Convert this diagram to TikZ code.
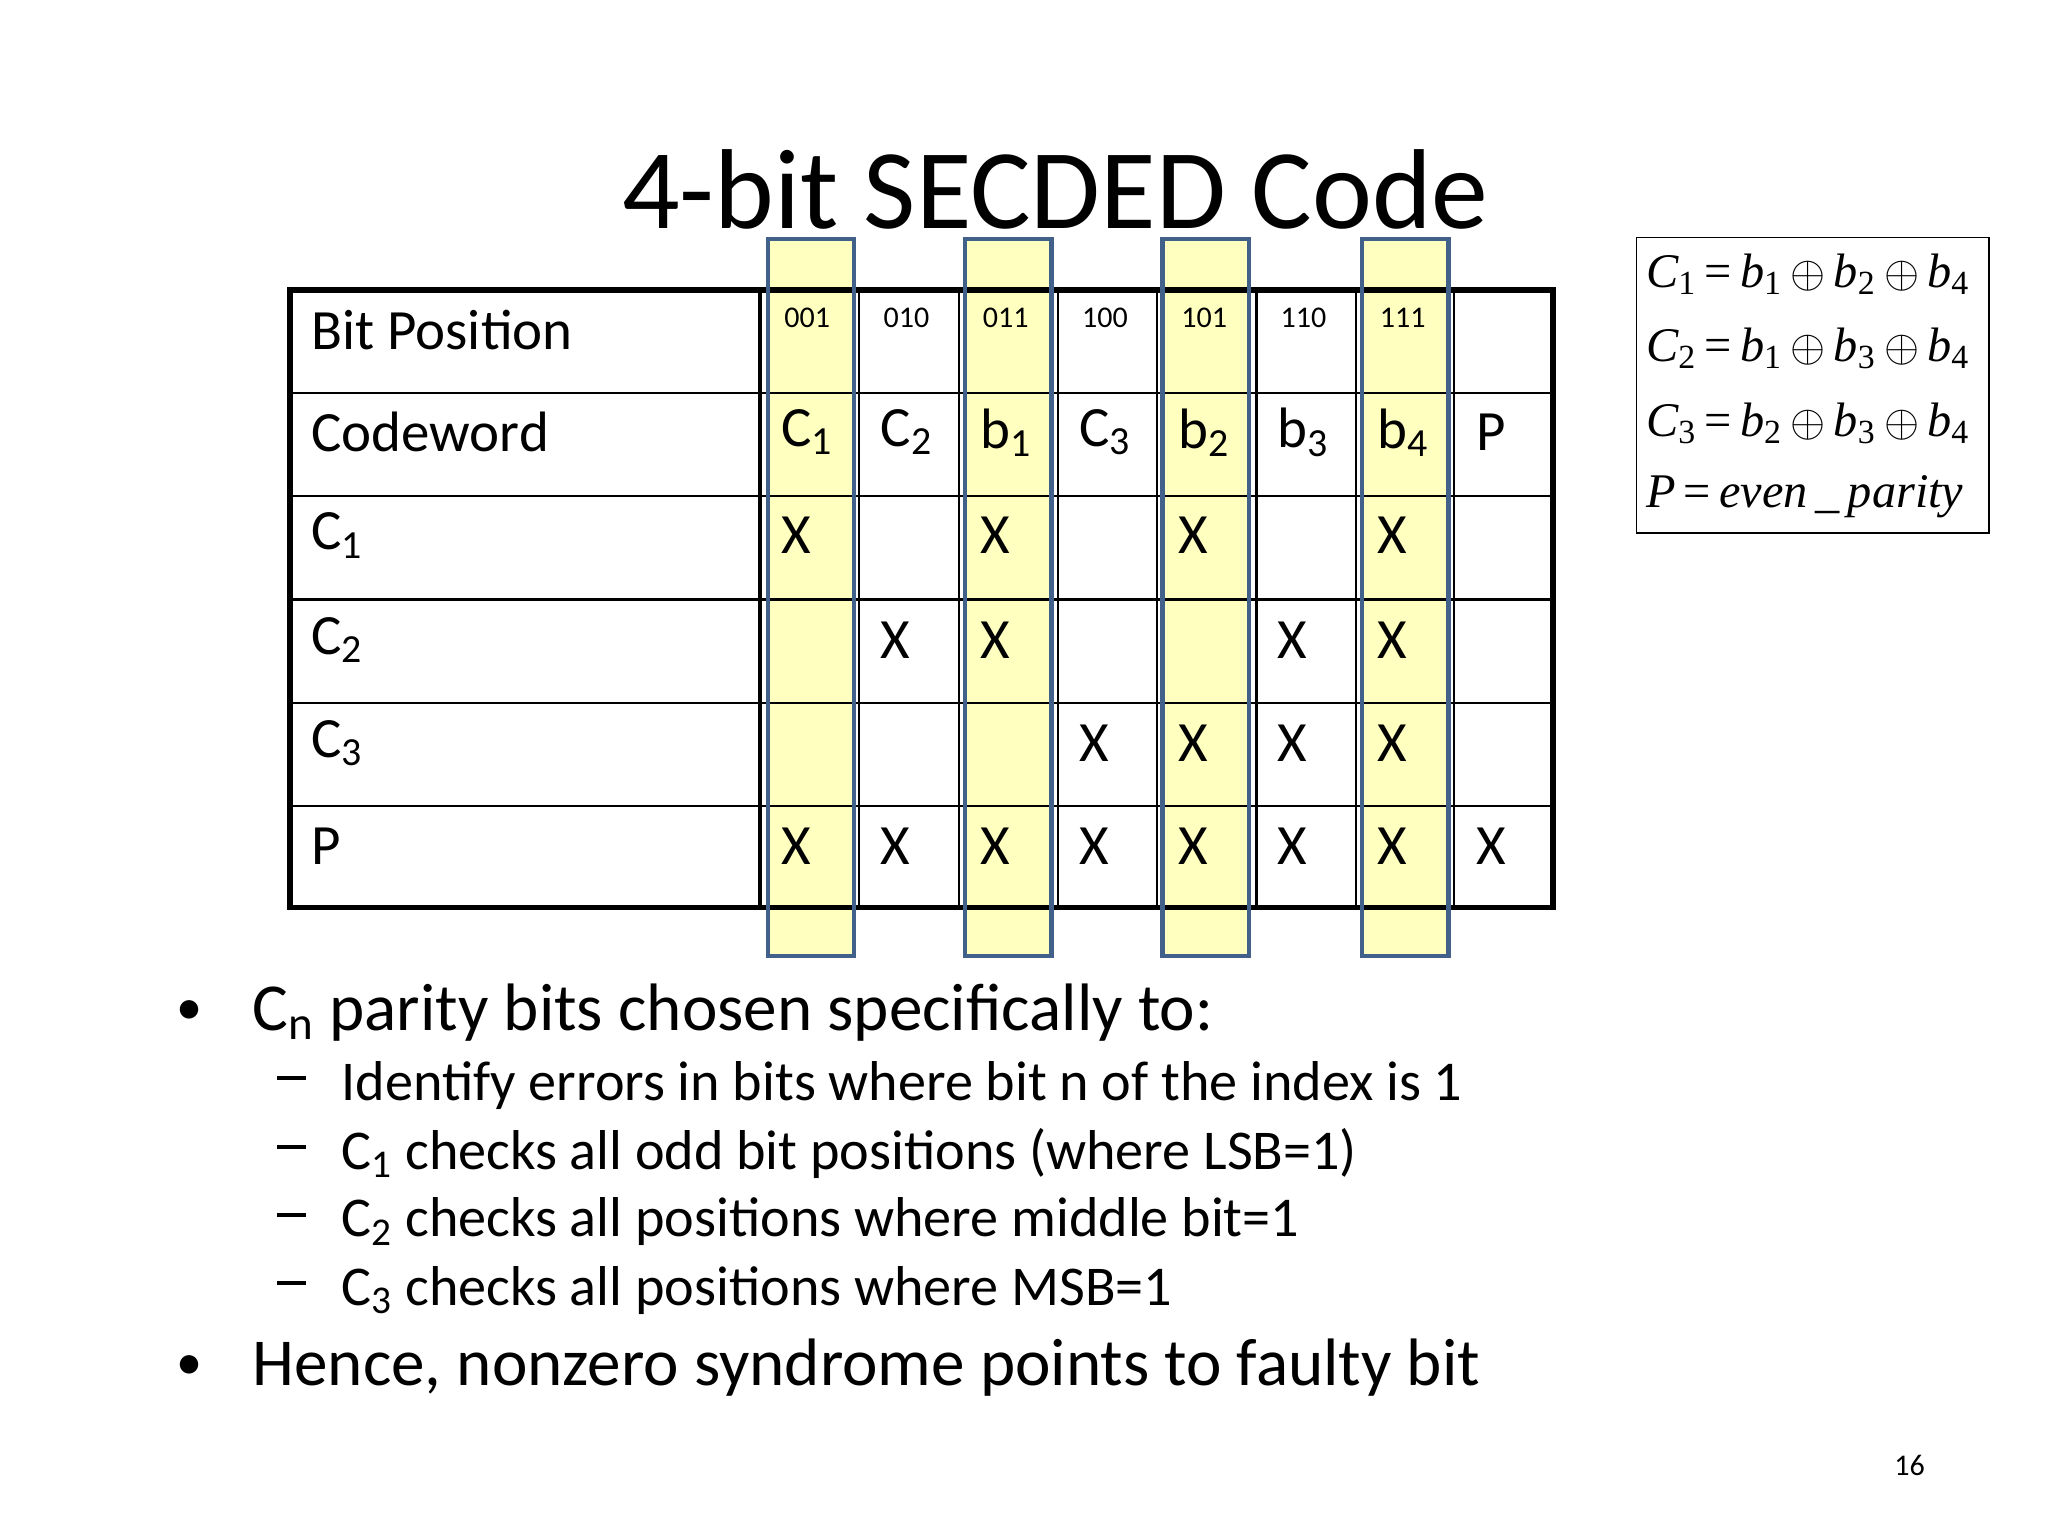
\documentclass[tikz,border=0pt]{standalone}
\usepackage{fontspec}
\setmainfont{Carlito}
\newfontfamily\tms{Liberation Serif}
\definecolor{olv}{RGB}{55,55,0}
\begin{document}
\begin{tikzpicture}[x=0.5pt,y=-0.5pt,
  cell/.style={anchor=west,inner sep=0pt,font=\fontsize{21.8}{26}\selectfont},
  ocell/.style={cell,text=olv},
  small/.style={anchor=center,inner sep=0pt,font=\fontsize{11.5}{13}\selectfont},
  barfill/.style={fill={rgb,255:red,255;green,255;blue,192}},
  bar/.style={draw={rgb,255:red,65;green,97;blue,138},line width=1.6pt},
  big/.style={anchor=west,inner sep=0pt,font=\fontsize{25.7}{30}\selectfont},
  sub/.style={anchor=west,inner sep=0pt,font=\fontsize{21.5}{26}\selectfont},
  eq/.style={anchor=west,inner sep=0pt,font=\tms\itshape\fontsize{18.5}{20}\selectfont}]
\useasboundingbox (0,0) rectangle (1568,1176);
\node (title) at (808,145) {\fontsize{43.5}{50}\selectfont 4-bit SECDED Code};
% bar fills
\foreach \x in {588,739,890,1043} \fill[barfill] (\x,183) rectangle ++(66,549);
% grid
\foreach \y in {301,380,459,538,617} \draw[line width=0.8pt] (222,\y) -- (1189,\y);
\foreach \x in {658,734,810,886,962,1038,1113} \draw[line width=0.8pt] (\x,222) -- (\x,695);
\draw[line width=1.6pt] (582,222) -- (582,695);
\draw[line width=2pt] (222,222) rectangle (1189,695);
% bar borders
\foreach \x in {588,739,890,1043} \draw[bar] (\x,183) rectangle ++(66,549);
% row labels
\node[cell] (r0) at (238,253) {Bit Position};
\node[cell] (r1) at (238,331) {Codeword};
\node[cell] (r2) at (238,410) {C\textsubscript{1}};
\node[cell] (r3) at (238,490) {C\textsubscript{2}};
\node[cell] (r4) at (238,569) {C\textsubscript{3}};
\node[cell] (r5) at (238,648) {P};
% positions
\foreach \t [count=\i] in {001,010,011,100,101,110,111}
  \node[small] (p\i) at ({582+76*(\i-1)+36},243) {\t};
\foreach \t [count=\i] in {C\textsubscript{1},C\textsubscript{2},b\textsubscript{1},C\textsubscript{3},b\textsubscript{2},b\textsubscript{3},b\textsubscript{4},P}
  \node[cell] (w\i) at ({582+76*(\i-1)+16},331) {\t};
\foreach \i in {1,3,5,7} \node[cell] (xa\i) at ({582+76*(\i-1)+16},410) {X};
\foreach \i in {2,3,6,7} \node[cell] (xb\i) at ({582+76*(\i-1)+16},490) {X};
\foreach \i in {4,5,6,7} \node[cell] (xc\i) at ({582+76*(\i-1)+16},569) {X};
\foreach \i in {1,...,8} \node[cell] (xd\i) at ({582+76*(\i-1)+16},648) {X};
% formulas
\draw[line width=0.6pt] (1253,182) rectangle (1523,408);
\node[eq] (e1) at (1260,210) {C\textsubscript{\upshape 1}\,{\upshape =}\,b\textsubscript{\upshape 1}\,$\oplus$\,b\textsubscript{\upshape 2}\,$\oplus$\,b\textsubscript{\upshape 4}};
\node[eq] (e2) at (1260,267) {C\textsubscript{\upshape 2}\,{\upshape =}\,b\textsubscript{\upshape 1}\,$\oplus$\,b\textsubscript{\upshape 3}\,$\oplus$\,b\textsubscript{\upshape 4}};
\node[eq] (e3) at (1260,324) {C\textsubscript{\upshape 3}\,{\upshape =}\,b\textsubscript{\upshape 2}\,$\oplus$\,b\textsubscript{\upshape 3}\,$\oplus$\,b\textsubscript{\upshape 4}};
\node[eq] (e4) at (1260,380) {P\,{\upshape =}\,even\,\_\,parity};
% bullets
\node[big,font=\fontsize{20}{24}\selectfont] (b1d) at (135,775) {•};
\node[big] (b1) at (193,775) {C\textsubscript{n} parity bits chosen specifically to:};
\foreach \t [count=\i] in {Identify errors in bits where bit n of the index is 1,C\textsubscript{1} checks all odd bit positions (where LSB=1),C\textsubscript{2} checks all positions where middle bit=1,C\textsubscript{3} checks all positions where MSB=1}{
  \node[sub] (sd\i) at (212,{831+52.3*(\i-1)}) {\rule[0.25em]{0.5em}{0.07em}};
  \node[sub] (s\i) at (261,{831+52.3*(\i-1)}) {\t};}
\node[big,font=\fontsize{20}{24}\selectfont] (b2d) at (135,1047) {•};
\node[big] (b2) at (193,1047) {Hence, nonzero syndrome points to faulty bit};
\node[small] (pg) at (1462,1122) {16};
\end{tikzpicture}
\end{document}
